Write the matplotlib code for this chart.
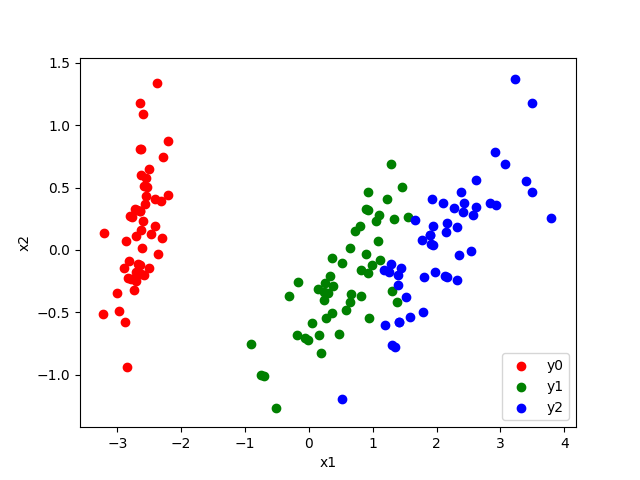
import matplotlib
matplotlib.use("Agg")
import matplotlib.pyplot as plt

# group y0
y0_x1 = [-2.684, -2.714, -2.889, -2.745, -2.729, -2.281, -2.821, -2.626, -2.886, -2.673,
         -2.507, -2.613, -2.786, -3.224, -2.645, -2.386, -2.624, -2.648, -2.200, -2.588,
         -2.310, -2.544, -3.216, -2.303, -2.356, -2.507, -2.469, -2.562, -2.640, -2.632,
         -2.587, -2.410, -2.649, -2.599, -2.637, -2.866, -2.625, -2.801, -2.981, -2.590,
         -2.770, -2.849, -2.997, -2.406, -2.209, -2.714, -2.538, -2.839, -2.543, -2.703]
y0_x2 = [0.319, -0.177, -0.145, -0.318, 0.327, 0.741, -0.089, 0.163, -0.578, -0.114,
         0.645, 0.015, -0.235, -0.511, 1.179, 1.338, 0.811, 0.312, 0.873, 0.514,
         0.391, 0.433, 0.133, 0.099, -0.037, -0.146, 0.131, 0.368, 0.312, -0.197,
         -0.204, 0.411, 0.813, 1.093, -0.121, 0.069, 0.599, 0.269, -0.488, 0.229,
         0.264, -0.941, -0.342, 0.189, 0.437, -0.250, 0.504, -0.228, 0.579, 0.108]

# group y1
y1_x1 = [1.285, 0.932, 1.464, 0.183, 1.088, 0.642, 1.095, -0.749, 1.044, -0.009,
         -0.508, 0.512, 0.265, 0.985, -0.174, 0.928, 0.660, 0.236, 0.945, 0.045,
         1.116, 0.358, 1.298, 0.922, 0.715, 0.900, 1.332, 1.558, 0.813, -0.306,
         -0.068, -0.190, 0.136, 1.380, 0.588, 0.807, 1.221, 0.815, 0.246, 0.166,
         0.465, 0.891, 0.231, -0.705, 0.357, 0.332, 0.376, 0.643, -0.906, 0.299]
y1_x2 = [0.685, 0.318, 0.504, -0.828, 0.075, -0.418, 0.283, -1.005, 0.228, -0.723,
         -1.266, -0.104, -0.550, -0.125, -0.255, 0.467, -0.353, -0.334, -0.543, -0.584,
         -0.085, -0.069, -0.328, -0.183, 0.149, 0.329, 0.244, 0.267, -0.163, -0.368,
         -0.705, -0.680, -0.314, -0.421, -0.484, 0.194, 0.408, -0.372, -0.269, -0.682,
         -0.671, -0.034, -0.404, -1.012, -0.505, -0.213, -0.293, 0.018, -0.756, -0.349]

# group y2
y2_x1 = [2.531, 1.415, 2.617, 1.972, 2.350, 3.397, 0.521, 2.933, 2.321, 2.917,
         1.662, 1.803, 2.166, 1.346, 1.586, 1.904, 1.950, 3.487, 3.796, 1.301,
         2.428, 1.199, 3.500, 1.389, 2.275, 2.614, 1.259, 1.291, 2.124, 2.388,
         2.842, 3.231, 2.159, 1.444, 1.781, 3.076, 2.144, 1.905, 1.169, 2.108,
         2.314, 1.922, 1.415, 2.563, 2.419, 1.944, 1.527, 1.764, 1.901, 1.390]
y2_x2 = [-0.010, -0.575, 0.344, -0.180, -0.040, 0.551, -1.193, 0.356, -0.244, 0.783,
         0.242, -0.216, 0.216, -0.777, -0.540, 0.119, 0.042, 1.176, 0.257, -0.761,
         0.378, -0.606, 0.461, -0.204, 0.335, 0.561, -0.180, -0.117, -0.210, 0.465,
         0.375, 1.374, -0.217, -0.143, -0.500, 0.688, 0.140, 0.049, -0.165, 0.372,
         0.184, 0.409, -0.575, 0.278, 0.305, 0.188, -0.375, 0.079, 0.117, -0.283]

fig, ax = plt.subplots(figsize=(6.4, 4.8), dpi=100)
ax.scatter(y0_x1, y0_x2, color="red", label="y0")
ax.scatter(y1_x1, y1_x2, color="green", label="y1")
ax.scatter(y2_x1, y2_x2, color="blue", label="y2")
ax.set_xlim(-3.584, 4.183)
ax.set_ylim(-1.422, 1.542)
ax.set_xlabel("x1")
ax.set_ylabel("x2")
ax.legend(loc="lower right")

fig.savefig("out.png")
